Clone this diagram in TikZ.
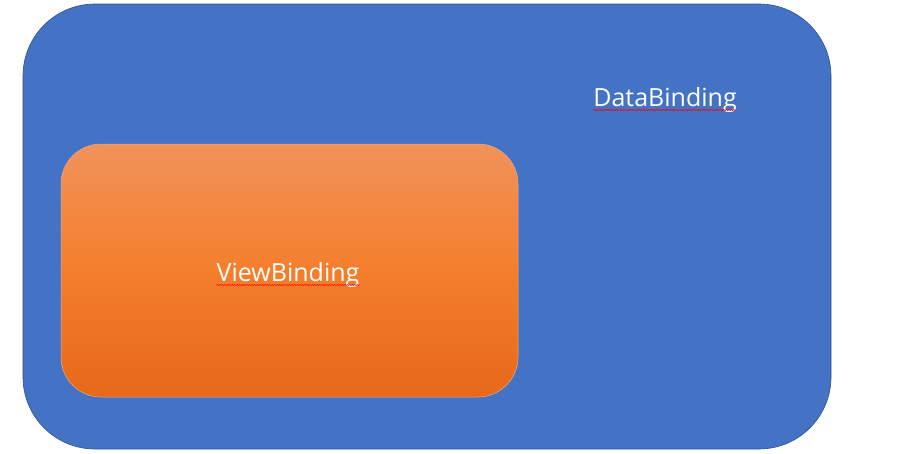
\documentclass[tikz,border=0pt]{standalone}
\usepackage{fontspec}
\setmainfont{Open Sans}
\usetikzlibrary{decorations.pathmorphing}

\definecolor{bindblue}{HTML}{4472C4}
\definecolor{bindblueline}{HTML}{2F528F}
\definecolor{viewtop}{HTML}{F1925B}
\definecolor{viewmid}{HTML}{F47E2C}
\definecolor{viewbot}{HTML}{E7681A}

\tikzset{
  label text/.style={text=white, inner sep=0pt, anchor=base, font=\fontsize{25}{28}\selectfont},
  spell mark/.style={red, line width=.5pt, decorate,
    decoration={snake, amplitude=.6pt, segment length=2.5pt}},
}

\begin{document}
\begin{tikzpicture}[x=1pt, y=-1pt]

  \useasboundingbox[fill=white] (0, 0) rectangle (904, 453);

  \def\squiggle#1{%
    \draw[spell mark] ([yshift=-4pt]#1.base west) -- ([yshift=-4pt]#1.base east);
  }

  % outer box
  \draw[fill=bindblue, draw=bindblueline, line width=.6pt, rounded corners=72pt]
    (23, 4) rectangle (831, 449);
  \node[label text] (data) at (665, 106) {DataBinding};
  \squiggle{data}

  % inner box
  \draw[top color=viewtop, bottom color=viewbot, middle color=viewmid,
        draw=viewtop!80!white, line width=.5pt, rounded corners=40pt]
    (61, 144) rectangle (518, 397);
  \node[label text] (view) at (288, 281) {ViewBinding};
  \squiggle{view}

\end{tikzpicture}
\end{document}
